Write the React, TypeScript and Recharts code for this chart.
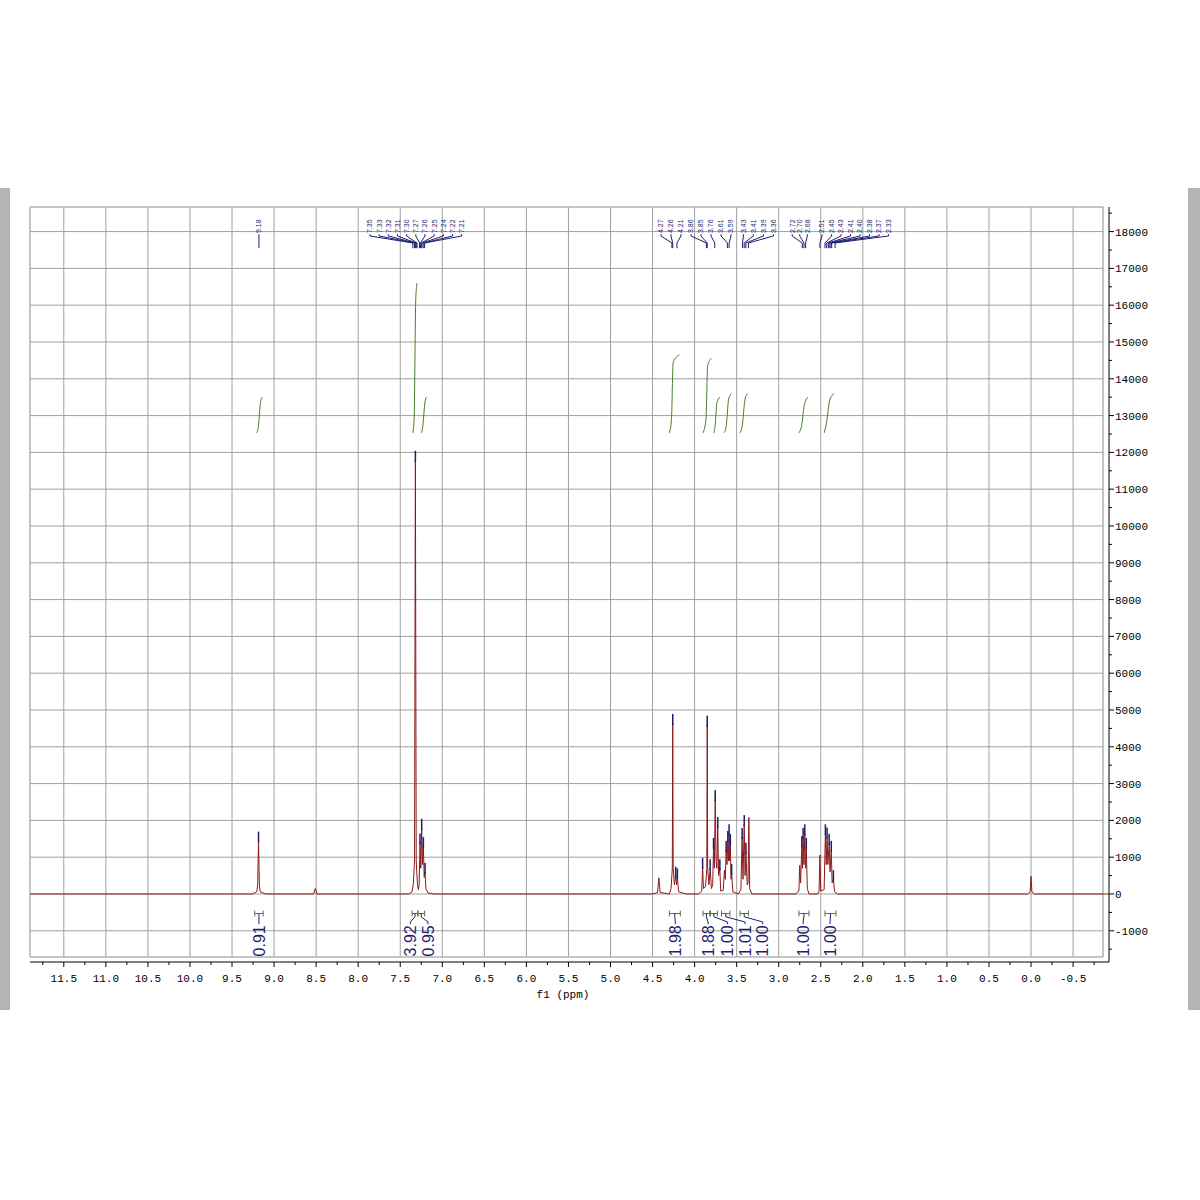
import React from "react";
import {
  ComposedChart, Line, Scatter, XAxis, YAxis, ReferenceLine, ReferenceArea,
} from "recharts";

// 1H trace: [ppm, intensity]
const trace: [number, number][] = [
  [11.9, 0], [9.26, 0], [9.205, 60], [9.195, 250], [9.185, 1450], [9.175, 250], [9.165, 60], [9.1, 0],
  [8.53, 0], [8.51, 150], [8.49, 0],
  [7.4, 0], [7.36, 60], [7.345, 250], [7.33, 900], [7.32, 11800], [7.31, 900], [7.295, 250], [7.285, 120],
  [7.275, 250], [7.265, 1400], [7.255, 700], [7.245, 1800], [7.235, 800], [7.225, 1300], [7.215, 450],
  [7.205, 600], [7.195, 150], [7.17, 30], [7.1, 0],
  [4.5, 0], [4.44, 40], [4.425, 440], [4.41, 40], [4.3, 0], [4.28, 150], [4.265, 700], [4.26, 4650],
  [4.255, 700], [4.24, 250], [4.225, 500], [4.215, 250], [4.205, 450], [4.19, 60], [4.1, 0],
  [3.95, 0], [3.915, 80], [3.905, 740], [3.895, 150], [3.87, 200], [3.855, 700], [3.85, 4600], [3.845, 700],
  [3.83, 250], [3.815, 700], [3.8, 150], [3.785, 250], [3.775, 1280], [3.765, 700], [3.755, 2580],
  [3.745, 900], [3.735, 700], [3.725, 1850], [3.715, 500], [3.7, 700], [3.69, 80], [3.66, 100],
  [3.645, 650], [3.635, 400], [3.625, 1200], [3.615, 800], [3.605, 1470], [3.597, 900], [3.59, 1650],
  [3.582, 900], [3.575, 1380], [3.567, 400], [3.56, 570], [3.545, 60], [3.48, 0],
  [3.45, 120], [3.435, 1550], [3.425, 400], [3.41, 1900], [3.4, 500], [3.39, 1150], [3.375, 250],
  [3.365, 300], [3.355, 2080], [3.345, 150], [3.32, 0],
  [2.8, 0], [2.76, 80], [2.75, 780], [2.74, 300], [2.725, 1330], [2.717, 700], [2.71, 1550], [2.7, 800],
  [2.69, 1650], [2.682, 700], [2.672, 1280], [2.66, 150], [2.64, 0],
  [2.54, 0], [2.52, 80], [2.51, 1060], [2.5, 80], [2.46, 120], [2.445, 1650], [2.435, 800], [2.425, 1560],
  [2.415, 800], [2.4, 1390], [2.39, 600], [2.375, 1200], [2.365, 300], [2.35, 400], [2.335, 60], [2.3, 0],
  [0.04, 0], [0.01, 60], [0, 480], [-0.01, 60], [-0.04, 0], [-0.927, 0],
];

// picked peak tops (little blue marks)
const peakPicks: [number, number][] = [
  [9.185, 1450], [7.32, 11800], [7.265, 1400], [7.245, 1800], [7.225, 1300], [7.205, 600],
  [4.26, 4650], [4.225, 500], [4.205, 450], [3.905, 740], [3.85, 4600], [3.815, 700],
  [3.775, 1280], [3.755, 2580], [3.725, 1850], [3.7, 700], [3.625, 1200], [3.605, 1470],
  [3.59, 1650], [3.575, 1380], [3.56, 570], [3.435, 1550], [3.41, 1900], [3.39, 1150],
  [2.725, 1330], [2.71, 1550], [2.69, 1650], [2.672, 1280],
  [2.445, 1650], [2.425, 1560], [2.4, 1390], [2.375, 1200], [2.35, 400],
];

// peak labels along the top, grouped like the fans
const pickLabelGroups: number[][] = [
  [9.18],
  [7.35, 7.33, 7.32, 7.31, 7.3, 7.27, 7.26, 7.25, 7.24, 7.22, 7.21],
  [4.27, 4.26, 4.21, 3.86, 3.85, 3.76, 3.61, 3.59],
  [3.43, 3.41, 3.39, 3.36],
  [2.72, 2.7, 2.68],
  [2.51, 2.45, 2.43, 2.41, 2.4, 2.38, 2.37, 2.33],
];
// where each text column group starts and its spacing (ppm)
const pickLabelLayout = [
  { start: 9.18, step: 0 },
  { start: 7.86, step: 0.109 },
  { start: 4.4, step: 0.119 },
  { start: 3.42, step: 0.119 },
  { start: 2.84, step: 0.09 },
  { start: 2.485, step: 0.113 },
];

// integrals
const integralFrom = [9.23, 7.36, 7.29, 4.3, 3.9, 3.81, 3.68, 3.46, 2.76, 2.45];
const integralTo = [9.13, 7.29, 7.21, 4.17, 3.82, 3.73, 3.58, 3.36, 2.64, 2.32];
const integralValues = ["0.91", "3.92", "0.95", "1.98", "1.88", "1.00", "1.01", "1.00", "1.00", "1.00"];
const integralLabelAt = [9.18, 7.38, 7.17, 4.23, 3.84, 3.61, 3.4, 3.19, 2.71, 2.39];

// integral curves above the peaks
const integralCurves: [number, number][][] = [
  [[9.21, 12530], [9.19, 12650], [9.16, 13380], [9.14, 13500]],
  [[7.35, 12530], [7.335, 12900], [7.315, 16200], [7.3, 16600]],
  [[7.25, 12530], [7.235, 12650], [7.205, 13380], [7.19, 13500]],
  [[4.3, 12530], [4.275, 12900], [4.255, 14450], [4.18, 14650]],
  [[3.9, 12530], [3.865, 12900], [3.845, 14350], [3.8, 14560]],
  [[3.77, 12530], [3.755, 12750], [3.735, 13350], [3.7, 13500]],
  [[3.65, 12530], [3.625, 12700], [3.595, 13450], [3.56, 13600]],
  [[3.46, 12530], [3.435, 12700], [3.4, 13450], [3.37, 13600]],
  [[2.76, 12530], [2.73, 12700], [2.69, 13350], [2.65, 13500]],
  [[2.46, 12530], [2.44, 12700], [2.39, 13450], [2.34, 13600]],
];

const xMajor = [11.5, 11, 10.5, 10, 9.5, 9, 8.5, 8, 7.5, 7, 6.5, 6, 5.5, 5, 4.5, 4, 3.5, 3, 2.5, 2, 1.5, 1, 0.5, 0, -0.5];
const yMajor = [18000, 17000, 16000, 15000, 14000, 13000, 12000, 11000, 10000, 9000, 8000, 7000, 6000,
  5000, 4000, 3000, 2000, 1000, 0, -1000];

const X_MIN = -0.927, X_MAX = 11.902, Y_MIN = -1848, Y_MAX = 18668;
const BOX_RIGHT = -0.856, BOX_BOTTOM = -1712;

const NAVY = "#1e1e70";
const GREEN = "#4b7d2c";
const RED = "#8b1a1a";
const GRID = "#a0a0a0";
const TICK_FONT = "'Liberation Mono', monospace";

const xTicks = [...xMajor.map((v) => v + 0.25), ...xMajor, -0.75];
const yTicks = [...yMajor.map((v) => v + 500), ...yMajor, -1500];

const traceData = trace.map(([x, y]) => ({ x, y }));
const pickData = peakPicks.map(([x, y]) => ({ x, y }));

const labelData: { x: number; y: number; text: string }[] = [];
const fanData: { x: number; y: number | null }[] = [];
pickLabelGroups.forEach((g, gi) => {
  g.forEach((v, i) => {
    const lx = pickLabelLayout[gi].start - i * pickLabelLayout[gi].step;
    labelData.push({ x: lx, y: 17960, text: v.toFixed(2) });
    fanData.push({ x: lx, y: 17930 }, { x: lx, y: 17880 }, { x: v, y: 17690 }, { x: v, y: 17550 }, { x: v, y: null });
  });
});

const curveData: { x: number; y: number | null }[] = [];
integralCurves.forEach((c) => {
  c.forEach(([x, y]) => curveData.push({ x, y }));
  curveData.push({ x: c[c.length - 1][0], y: null });
});

const bracketData: { x: number; y: number | null }[] = [];
const leaderData: { x: number; y: number | null }[] = [];
const integralText: { x: number; y: number; text: string }[] = [];
integralFrom.forEach((a, i) => {
  const b = integralTo[i];
  const c = (a + b) / 2;
  const lx = integralLabelAt[i];
  bracketData.push(
    { x: a, y: -450 }, { x: a, y: -610 }, { x: a, y: null },
    { x: a, y: -530 }, { x: b, y: -530 }, { x: b, y: null },
    { x: b, y: -450 }, { x: b, y: -610 }, { x: b, y: null },
  );
  leaderData.push({ x: c, y: -530 }, { x: c, y: -620 }, { x: lx, y: -760 }, { x: lx, y: -820 }, { x: lx, y: null });
  integralText.push({ x: lx, y: -850, text: integralValues[i] });
});

// eslint-disable-next-line @typescript-eslint/no-explicit-any
const XTick = ({ x, y, payload }: any) => {
  const major = xMajor.includes(payload.value);
  return (
    <g>
      <line x1={x} x2={x} y1={y} y2={y + (major ? 5 : 3)} stroke="#000" />
      {major && (
        <text x={x} y={y + 20} textAnchor="middle" fontSize={11} fontFamily={TICK_FONT} fill="#000">
          {payload.value.toFixed(1)}
        </text>
      )}
    </g>
  );
};

// eslint-disable-next-line @typescript-eslint/no-explicit-any
const YTick = ({ x, y, payload }: any) => {
  const major = yMajor.includes(payload.value);
  return (
    <g>
      <line x1={x} x2={x + (major ? 5 : 3)} y1={y} y2={y} stroke="#000" />
      {major && (
        <text x={x + 6} y={y + 4} fontSize={11} fontFamily={TICK_FONT} fill="#000">
          {payload.value}
        </text>
      )}
    </g>
  );
};

// eslint-disable-next-line @typescript-eslint/no-explicit-any
const PickMark = ({ cx, cy }: any) => (
  <rect x={cx - 0.75} y={cy - 9} width={1.5} height={11} fill={NAVY} />
);

// eslint-disable-next-line @typescript-eslint/no-explicit-any
const PickLabel = ({ cx, cy, payload }: any) => (
  <text x={cx} y={cy} dy="0.35em" transform={`rotate(-90 ${cx} ${cy})`}
    fontSize={7} fontFamily="'Liberation Sans', sans-serif" fill={NAVY}>
    {payload.text}
  </text>
);

// eslint-disable-next-line @typescript-eslint/no-explicit-any
const IntegralLabel = ({ cx, cy, payload }: any) => (
  <text x={cx} y={cy} dy="0.36em" textAnchor="end" transform={`rotate(-90 ${cx} ${cy})`}
    fontSize={16} fontFamily="'Liberation Sans', sans-serif" fill={NAVY}>
    {payload.text}
  </text>
);

export default function App() {
  return (
    <div style={{ position: "absolute", left: 0, top: 0, width: 1200, height: 1200, background: "#fff" }}>
      <div style={{ position: "absolute", left: 0, top: 188, width: 10, height: 822, background: "#b4b4b4" }} />
      <div style={{ position: "absolute", left: 1188, top: 188, width: 12, height: 822, background: "#b4b4b4" }} />

      <div style={{ position: "absolute", left: 0, top: 0 }}>
        <ComposedChart width={1200} height={1200} margin={{ top: 207, left: 30, right: 0, bottom: 0 }}>
          <XAxis type="number" dataKey="x" domain={[X_MIN, X_MAX]} reversed allowDataOverflow
            ticks={xTicks} interval={0} tickSize={0} tickMargin={0} tickLine={false}
            tick={(p) => <XTick {...p} />} height={238} axisLine={{ stroke: "#000" }} />
          <YAxis type="number" dataKey="y" orientation="right" domain={[Y_MIN, Y_MAX]} allowDataOverflow
            ticks={yTicks} interval={0} tickSize={0} tickMargin={0} tickLine={false}
            tick={(p) => <YTick {...p} />} width={91} axisLine={{ stroke: "#000" }} />

          {/* grid */}
          {xMajor.map((v) => (
            <ReferenceLine key={`gx${v}`} segment={[{ x: v, y: BOX_BOTTOM }, { x: v, y: Y_MAX }]} stroke={GRID} />
          ))}
          {yMajor.map((v) => (
            <ReferenceLine key={`gy${v}`} segment={[{ x: X_MAX, y: v }, { x: BOX_RIGHT, y: v }]} stroke={GRID} />
          ))}
          <ReferenceArea x1={BOX_RIGHT} x2={X_MAX} y1={BOX_BOTTOM} y2={Y_MAX} fill="none" stroke="#8c8c8c" />

          <Line data={curveData} dataKey="y" type="monotone" stroke={GREEN} strokeWidth={1} dot={false} isAnimationActive={false} />
          <Line data={fanData} dataKey="y" type="linear" stroke={NAVY} strokeWidth={1} dot={false} isAnimationActive={false} />
          <Line data={bracketData} dataKey="y" type="linear" stroke={GREEN} strokeWidth={1} dot={false} isAnimationActive={false} />
          <Line data={leaderData} dataKey="y" type="linear" stroke={NAVY} strokeWidth={1} dot={false} isAnimationActive={false} />
          <Line data={traceData} dataKey="y" type="linear" stroke={RED} strokeWidth={1} dot={false} isAnimationActive={false} />

          <Scatter data={pickData} dataKey="y" shape={(p: any) => <PickMark {...p} />} isAnimationActive={false} />
          <Scatter data={labelData} dataKey="y" shape={(p: any) => <PickLabel {...p} />} isAnimationActive={false} />
          <Scatter data={integralText} dataKey="y" shape={(p: any) => <IntegralLabel {...p} />} isAnimationActive={false} />
        </ComposedChart>
      </div>

      <div style={{
        position: "absolute", left: 463, top: 988, width: 200, textAlign: "center",
        fontFamily: TICK_FONT, fontSize: 11, lineHeight: "14px", color: "#000",
      }}>
        f1 (ppm)
      </div>
    </div>
  );
}
